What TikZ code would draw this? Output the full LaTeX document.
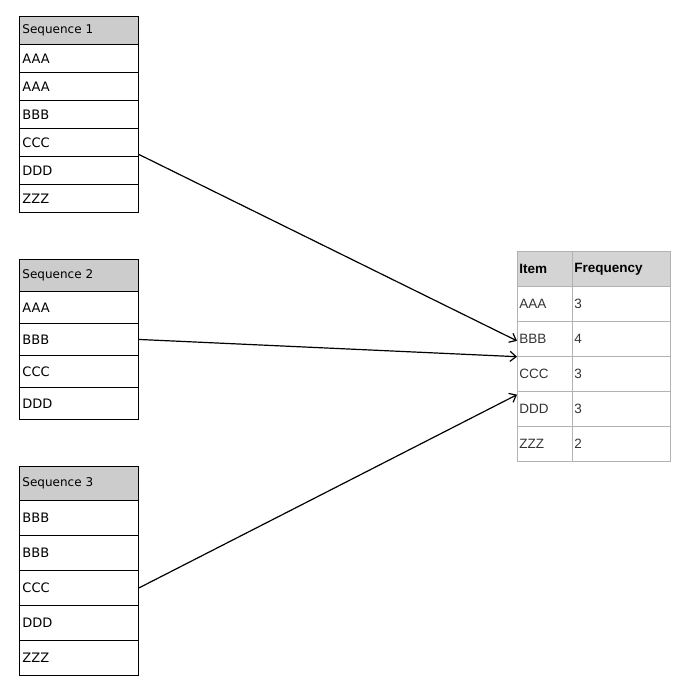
\documentclass[tikz,border=0pt]{standalone}
\usepackage{fontspec}
\usetikzlibrary{arrows.meta}
\setmainfont{Liberation Sans}
\newfontfamily\handfont{DejaVu Sans}
\begin{document}
\begin{tikzpicture}[x=1pt,y=-1pt,
  cellL/.style={draw=black,line width=0.9pt,minimum width=119pt,anchor=north west,inner sep=0pt,font=\handfont\fontsize{13}{14}\selectfont,text width=113pt,align=left},
  hdrL/.style={cellL,fill=black!20,font=\handfont\fontsize{12}{14}\selectfont},
  cellR/.style={draw=black!30,line width=0.7pt,anchor=north west,inner sep=0pt,minimum height=35pt,font=\fontsize{13.5}{15}\selectfont,align=left},
  arr/.style={line width=1.2pt,-{Straight Barb[length=6pt,width=10pt]}}]
\useasboundingbox (0,0) rectangle (700,700);
% Sequence 1
\node[hdrL,minimum height=28pt] (s1h) at (19,16) {Sequence 1};
\foreach \t [count=\i] in {AAA,AAA,BBB,CCC,DDD,ZZZ}
  \node[cellL,minimum height=28pt] (s1r\i) at (19,{16+28*\i}) {\t};
% Sequence 2
\node[hdrL,minimum height=32pt] (s2h) at (19,259) {Sequence 2};
\foreach \t [count=\i] in {AAA,BBB,CCC,DDD}
  \node[cellL,minimum height=32pt] (s2r\i) at (19,{259+32*\i}) {\t};
% Sequence 3
\node[hdrL,minimum height=34pt] (s3h) at (19,466) {Sequence 3};
\foreach \t [count=\i] in {BBB,BBB,CCC,DDD,ZZZ}
  \node[cellL,minimum height=35pt] (s3r\i) at (19,{465+35*\i}) {\t};
% Right table
\node[cellR,fill=black!17,minimum width=55pt,text width=51pt,font=\bfseries\fontsize{13.5}{15}\selectfont] (ih) at (517,251) {Item};
\node[cellR,fill=black!17,minimum width=98pt,text width=94pt,font=\bfseries\fontsize{13.5}{15}\selectfont] (fh) at (572,251) {Frequency};
\foreach \a/\b [count=\i] in {AAA/3,BBB/4,CCC/3,DDD/3,ZZZ/2}{
  \node[cellR,minimum width=55pt,text width=51pt,text=black!80] (i\i) at (517,{251+35*\i}) {\a};
  \node[cellR,minimum width=98pt,text width=94pt,text=black!80] (f\i) at (572,{251+35*\i}) {\b};
}
\draw[arr] ([yshift=-12pt]s1r4.east) -- ([yshift=-2pt]i2.west);
\draw[arr] (s2r2.east) -- (i2.south west);
\draw[arr] (s3r3.east) -- ([yshift=-3pt]i3.south west);
\end{tikzpicture}
\end{document}
